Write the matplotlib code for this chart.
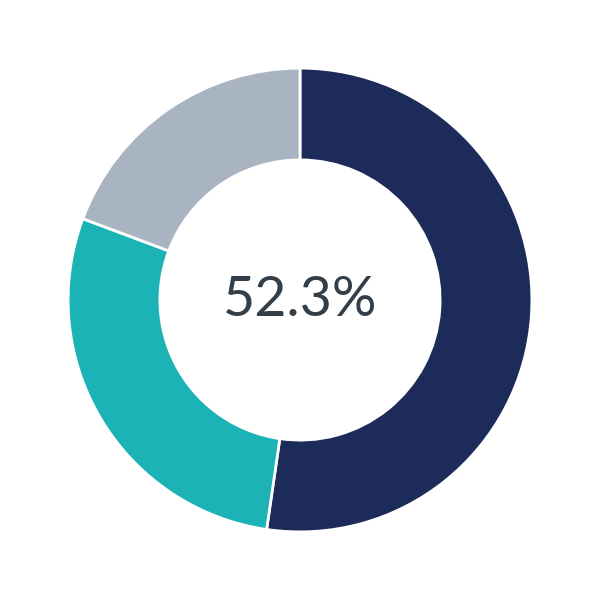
import matplotlib.pyplot as plt

labels = ["Navy", "Teal", "Gray"]
shares = [52.3, 28.4, 19.3]
colors = ["#1c2b5a", "#1bb3b6", "#a9b4c3"]
center_label = "52.3%"

fig, ax = plt.subplots(figsize=(6, 6), dpi=100)
fig.subplots_adjust(left=0, right=1, bottom=0, top=1)

ax.pie(shares, colors=colors, startangle=90, counterclock=False,
       radius=0.773,
       wedgeprops=dict(width=0.306, edgecolor="white", linewidth=2))
ax.text(0, 0, center_label, ha="center", va="center",
        fontsize=40, color="#333e48", family=["Lato", "DejaVu Sans"])
ax.set_xlim(-1, 1)
ax.set_ylim(-1, 1)
ax.set_aspect("equal")
ax.axis("off")

plt.savefig("out.png", dpi=100, facecolor="white")
